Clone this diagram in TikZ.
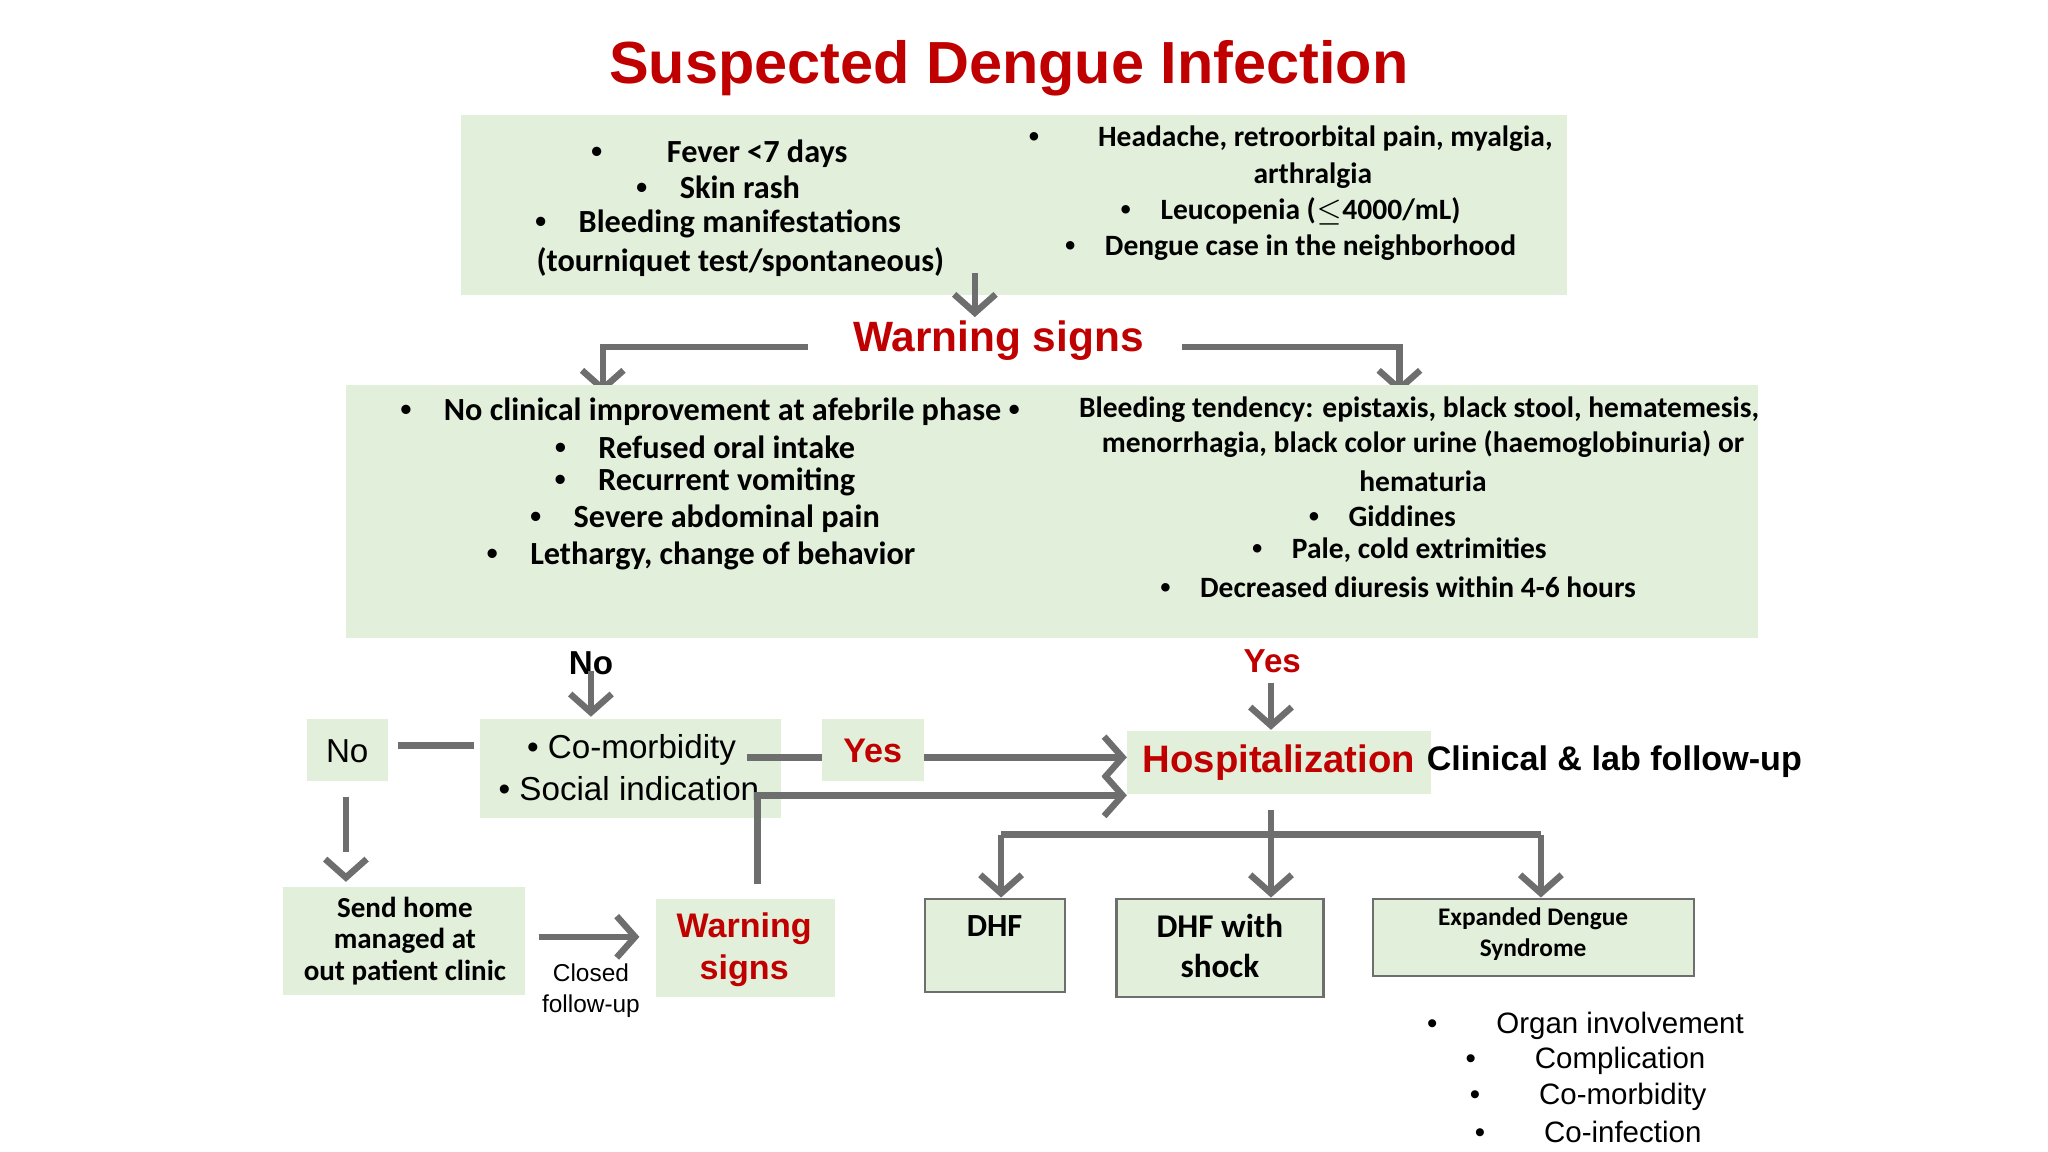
\documentclass[tikz,border=0pt]{standalone}
\usepackage{fontspec}
\setmainfont{Carlito}
\newfontfamily\arialf{Liberation Sans}
\newcommand{\bu}{{\arialf\textbullet}}
\usetikzlibrary{arrows.meta}
\definecolor{bx}{HTML}{E2EFDA}
\definecolor{rd}{HTML}{C00000}
\definecolor{gy}{HTML}{6E6E6E}
\begin{document}
\begin{tikzpicture}[x=0.01cm,y=-0.01cm,
  box/.style={fill=bx,draw=none,inner sep=0},
  gbox/.style={fill=bx,draw=gy,line width=0.5pt,inner sep=0},
  t/.style={inner sep=0,font=\fontsize{7pt}{8pt}\selectfont\bfseries},
  s/.style={inner sep=0,font=\fontsize{6.4pt}{7pt}\selectfont\bfseries},
  r/.style={inner sep=0,font=\arialf\fontsize{7.2pt}{8pt}\selectfont},
  red/.style={inner sep=0,text=rd,font=\arialf\fontsize{#1}{9pt}\selectfont\bfseries},
  ar/.style={draw=gy,line width=1.4pt,-{Straight Barb[length=4pt,width=9pt,line width=1.4pt]}},
  ln/.style={draw=gy,line width=1.4pt}]
\useasboundingbox (0,0) rectangle (1563,879);
\node[red=12.9pt] (title) at (770,52) {Suspected Dengue Infection};
\path[box] (352,88) rectangle (1196,225);
\node[t] (a1) at (549,117) {\bu\qquad Fever <7 days};
\node[t] (a2) at (548,143) {\bu\quad Skin rash};
\node[t] (a3) at (548,171) {\bu\quad Bleeding manifestations};
\node[t] (a4) at (565,200) {(tourniquet test/spontaneous)};
\node[s] (b1) at (985,106) {\bu\qquad Headache, retroorbital pain, myalgia,};
\node[s] (b2) at (1002,134) {arthralgia};
\node[s] (b3) at (985,161) {\bu\quad Leucopenia ($\leq$4000/mL)};
\node[s] (b4) at (985,189) {\bu\quad Dengue case in the neighborhood};
\coordinate (d1) at (744,208); \coordinate (d2) at (744,242);
\draw[ar] (d1) -- (d2);
\node[red=9.2pt] (ws) at (762,260) {Warning signs};
\coordinate (l1) at (617,265); \coordinate (l2) at (460,265); \coordinate (l3) at (460,300);
\coordinate (r1) at (902,265); \coordinate (r2) at (1068,265); \coordinate (r3) at (1068,300);
\draw[ar] (l1) -- (l2) -- (l3);
\draw[ar] (r1) -- (r2) -- (r3);
\path[box] (264,294) rectangle (1342,487);
\node[t] (c1) at (542,314) {\bu\quad No clinical improvement at afebrile phase \bu};
\node[t] (c2) at (538,341) {\bu\quad Refused oral intake};
\node[t] (c3) at (538,368) {\bu\quad Recurrent vomiting};
\node[t] (c4) at (538,396) {\bu\quad Severe abdominal pain};
\node[t] (c5) at (535,424) {\bu\quad Lethargy, change of behavior};
\node[s] (e1) at (1083,313) {Bleeding tendency: epistaxis, black stool, hematemesis,};
\node[s] (e2) at (1086,339) {menorrhagia, black color urine (haemoglobinuria) or};
\node[s] (e3) at (1086,367) {hematuria};
\node[s] (e4) at (1055,394) {\bu\quad Giddines};
\node[s] (e5) at (1068,420) {\bu\quad Pale,  cold extrimities};
\node[s] (e6) at (1067,448) {\bu\quad Decreased diuresis within 4-6 hours};
\node[inner sep=0,font=\arialf\fontsize{7.2pt}{8pt}\selectfont\bfseries] (no1) at (451,506) {No};
\node[red=7.2pt] (yes1) at (971,505) {Yes};
\coordinate (n1) at (451,512); \coordinate (n2) at (451,547);
\coordinate (y1) at (970,521); \coordinate (y2) at (970,557);
\draw[ar] (n1) -- (n2);
\draw[ar] (y1) -- (y2);
\path[box] (234,549) rectangle (296,596);
\node[r] (no2) at (265,573) {No};
\path[box] (366,549) rectangle (596,624);
\node[r] (cm1) at (482,572) {\bu\ Co-morbidity};
\node[r] (cm2) at (480,602) {\bu\ Social indication};
\path[box] (627,549) rectangle (705,596);
\node[red=7.4pt] (yes2) at (666,573) {Yes};
\path[box] (860,558) rectangle (1092,606);
\node[red=8.3pt] (hosp) at (976,582) {Hospitalization};
\node[inner sep=0,font=\arialf\fontsize{7.4pt}{8pt}\selectfont\bfseries] (clin) at (1232,581) {Clinical \& lab follow-up};
\coordinate (p1) at (304,569); \coordinate (p2) at (362,569);
\draw[ln] (p1) -- (p2);
\coordinate (q1) at (570,578); \coordinate (q2) at (627,578);
\draw[ln] (q1) -- (q2);
\coordinate (h1) at (705,578); \coordinate (h2) at (860,578);
\draw[ar] (h1) -- (h2);
\coordinate (w1) at (578,675); \coordinate (w2) at (578,607); \coordinate (w3) at (860,607);
\draw[ar] (w1) -- (w2) -- (w3);
\coordinate (dn1) at (264,608); \coordinate (dn2) at (264,673);
\draw[ar,dash pattern=on 12pt off 6pt] (dn1) -- (dn2);
\path[box] (216,677) rectangle (401,759);
\node[inner sep=0,align=center,font=\fontsize{6.3pt}{6.8pt}\selectfont\bfseries] (home) at (309,718) {Send home\\managed at\\out patient clinic};
\coordinate (s1) at (411,715); \coordinate (s2) at (488,715);
\draw[ar] (s1) -- (s2);
\node[inner sep=0,align=center,font=\arialf\fontsize{5.3pt}{6.6pt}\selectfont] (closed) at (451,756) {Closed\\follow-up};
\path[box] (501,686) rectangle (637,761);
\node[red=7.4pt,align=center] (ws2) at (568,725) {Warning\\signs};
\coordinate (k1) at (970,618); \coordinate (k2) at (970,637);
\coordinate (kl) at (764,637); \coordinate (kr) at (1176,637);
\coordinate (kl2) at (764,685); \coordinate (km2) at (970,685); \coordinate (kr2) at (1176,685);
\draw[ln] (k1) -- (k2);
\draw[ln] (kl) -- (kr);
\draw[ar] (kl) -- (kl2);
\draw[ar] (k2) -- (km2);
\draw[ar] (kr) -- (kr2);
\path[gbox] (706,686) rectangle (813,757);
\node[t] (dhf) at (759,707) {DHF};
\path[gbox] (852,686) rectangle (1010,761);
\node[inner sep=0,align=center,font=\fontsize{7.2pt}{8.8pt}\selectfont\bfseries] (dhfs) at (931,722) {DHF with\\shock};
\path[gbox] (1048,686) rectangle (1293,745);
\node[inner sep=0,align=center,font=\fontsize{5.5pt}{6.6pt}\selectfont\bfseries] (eds) at (1170,713) {Expanded Dengue\\Syndrome};
\node[r,font=\arialf\fontsize{6.4pt}{7pt}\selectfont] (o1) at (1210,783) {\bu\qquad Organ involvement};
\node[r,font=\arialf\fontsize{6.4pt}{7pt}\selectfont] (o2) at (1210,810) {\bu\qquad Complication};
\node[r,font=\arialf\fontsize{6.4pt}{7pt}\selectfont] (o3) at (1212,837) {\bu\qquad Co-morbidity};
\node[r,font=\arialf\fontsize{6.4pt}{7pt}\selectfont] (o4) at (1212,864) {\bu\qquad Co-infection};
\end{tikzpicture}
\end{document}
